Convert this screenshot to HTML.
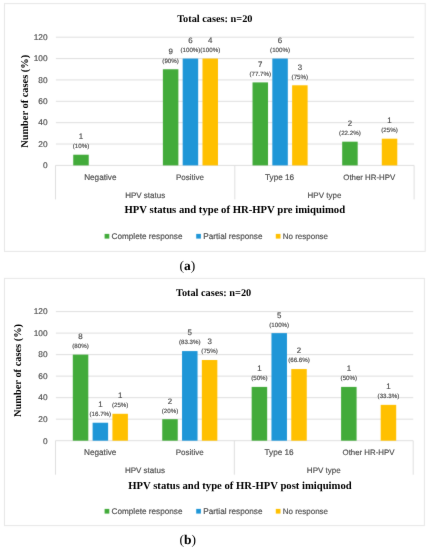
<!DOCTYPE html><html><head><meta charset="utf-8"><style>html,body{margin:0;padding:0;background:#fff;}svg{display:block;text-rendering:geometricPrecision;}</style></head><body>
<svg width="428" height="550" viewBox="0 0 428 550">
<defs><filter id="bl" color-interpolation-filters="sRGB" x="-5%" y="-5%" width="110%" height="110%"><feConvolveMatrix order="3" kernelMatrix="0.0100 0.0800 0.0100 0.0800 0.6400 0.0800 0.0100 0.0800 0.0100" divisor="1" edgeMode="duplicate" preserveAlpha="false"/></filter><filter id="bt" color-interpolation-filters="sRGB" x="-5%" y="-5%" width="110%" height="110%"><feConvolveMatrix order="3" kernelMatrix="0.0025 0.0450 0.0025 0.0450 0.8100 0.0450 0.0025 0.0450 0.0025" divisor="1" edgeMode="duplicate" preserveAlpha="false"/></filter></defs>
<rect x="0" y="0" width="428" height="550" fill="#fff"/>
<g filter="url(#bl)">
<style>.s{font-family:"Liberation Sans", sans-serif;fill:#505050;stroke:#505050;stroke-width:0.18px;}</style>
<rect x="4.5" y="3.6" width="420.7" height="247.8" fill="#fff" stroke="#e6e6e6" stroke-width="1"/>
<line x1="55.9" y1="144.03" x2="414.1" y2="144.03" stroke="#dedede" stroke-width="1"/>
<line x1="55.9" y1="122.67" x2="414.1" y2="122.67" stroke="#dedede" stroke-width="1"/>
<line x1="55.9" y1="101.3" x2="414.1" y2="101.3" stroke="#dedede" stroke-width="1"/>
<line x1="55.9" y1="79.93" x2="414.1" y2="79.93" stroke="#dedede" stroke-width="1"/>
<line x1="55.9" y1="58.57" x2="414.1" y2="58.57" stroke="#dedede" stroke-width="1"/>
<line x1="55.9" y1="37.2" x2="414.1" y2="37.2" stroke="#dedede" stroke-width="1"/>
<line x1="55.5" y1="165.4" x2="414.1" y2="165.4" stroke="#dedede" stroke-width="1"/>
<line x1="55.5" y1="165.4" x2="55.5" y2="199.4" stroke="#dedede" stroke-width="1"/>
<line x1="234.8" y1="165.4" x2="234.8" y2="199.4" stroke="#dedede" stroke-width="1"/>
<line x1="414.1" y1="165.4" x2="414.1" y2="199.4" stroke="#dedede" stroke-width="1"/>
<rect x="73.23" y="154.72" width="15.5" height="10.68" fill="#42ab3a"/>
<rect x="162.88" y="69.25" width="15.5" height="96.15" fill="#42ab3a"/>
<rect x="182.68" y="58.57" width="15.5" height="106.83" fill="#1e96d7"/>
<rect x="202.48" y="58.57" width="15.5" height="106.83" fill="#ffc000"/>
<rect x="252.52" y="82.39" width="15.5" height="83.01" fill="#42ab3a"/>
<rect x="272.32" y="58.57" width="15.5" height="106.83" fill="#1e96d7"/>
<rect x="292.12" y="85.28" width="15.5" height="80.12" fill="#ffc000"/>
<rect x="342.18" y="141.68" width="15.5" height="23.72" fill="#42ab3a"/>
<rect x="381.78" y="138.69" width="15.5" height="26.71" fill="#ffc000"/>
<rect x="104.6" y="233.9" width="4.7" height="4.7" fill="#42ab3a"/>
<rect x="196.2" y="233.9" width="4.7" height="4.7" fill="#1e96d7"/>
<rect x="275.8" y="233.9" width="4.7" height="4.7" fill="#ffc000"/>
<rect x="4.5" y="278.4" width="419.9" height="247.2" fill="#fff" stroke="#e6e6e6" stroke-width="1"/>
<line x1="55.9" y1="419.18" x2="413.2" y2="419.18" stroke="#dedede" stroke-width="1"/>
<line x1="55.9" y1="397.67" x2="413.2" y2="397.67" stroke="#dedede" stroke-width="1"/>
<line x1="55.9" y1="376.15" x2="413.2" y2="376.15" stroke="#dedede" stroke-width="1"/>
<line x1="55.9" y1="354.63" x2="413.2" y2="354.63" stroke="#dedede" stroke-width="1"/>
<line x1="55.9" y1="333.12" x2="413.2" y2="333.12" stroke="#dedede" stroke-width="1"/>
<line x1="55.9" y1="311.6" x2="413.2" y2="311.6" stroke="#dedede" stroke-width="1"/>
<line x1="55.5" y1="440.7" x2="413.2" y2="440.7" stroke="#dedede" stroke-width="1"/>
<line x1="55.5" y1="440.7" x2="55.5" y2="474.7" stroke="#dedede" stroke-width="1"/>
<line x1="234.35" y1="440.7" x2="234.35" y2="474.7" stroke="#dedede" stroke-width="1"/>
<line x1="413.2" y1="440.7" x2="413.2" y2="474.7" stroke="#dedede" stroke-width="1"/>
<rect x="72.81" y="354.63" width="15.5" height="86.07" fill="#42ab3a"/>
<rect x="92.61" y="422.73" width="15.5" height="17.97" fill="#1e96d7"/>
<rect x="112.41" y="413.8" width="15.5" height="26.9" fill="#ffc000"/>
<rect x="162.24" y="419.18" width="15.5" height="21.52" fill="#42ab3a"/>
<rect x="182.04" y="351.08" width="15.5" height="89.62" fill="#1e96d7"/>
<rect x="201.84" y="360.01" width="15.5" height="80.69" fill="#ffc000"/>
<rect x="251.66" y="386.91" width="15.5" height="53.79" fill="#42ab3a"/>
<rect x="271.46" y="333.12" width="15.5" height="107.58" fill="#1e96d7"/>
<rect x="291.26" y="369.05" width="15.5" height="71.65" fill="#ffc000"/>
<rect x="341.09" y="386.91" width="15.5" height="53.79" fill="#42ab3a"/>
<rect x="380.69" y="404.87" width="15.5" height="35.83" fill="#ffc000"/>
<rect x="104.6" y="508.9" width="4.7" height="4.7" fill="#42ab3a"/>
<rect x="196.2" y="508.9" width="4.7" height="4.7" fill="#1e96d7"/>
<rect x="275.8" y="508.9" width="4.7" height="4.7" fill="#ffc000"/>
</g>
<g filter="url(#bt)">
<text x="214.8" y="22" text-anchor="middle" font-family='"Liberation Serif", serif' font-weight="bold" font-size="10.3" fill="#000">Total cases: n=20</text>
<text x="47.6" y="168.2" text-anchor="end" class="s" font-size="8.3">0</text>
<text x="47.6" y="146.83" text-anchor="end" class="s" font-size="8.3">20</text>
<text x="47.6" y="125.47" text-anchor="end" class="s" font-size="8.3">40</text>
<text x="47.6" y="104.1" text-anchor="end" class="s" font-size="8.3">60</text>
<text x="47.6" y="82.73" text-anchor="end" class="s" font-size="8.3">80</text>
<text x="47.6" y="61.37" text-anchor="end" class="s" font-size="8.3">100</text>
<text x="47.6" y="40" text-anchor="end" class="s" font-size="8.3">120</text>
<text x="80.98" y="148.12" text-anchor="middle" class="s" font-size="6.2">(10%)</text>
<text x="80.98" y="139.12" text-anchor="middle" class="s" font-size="7.9">1</text>
<text x="170.62" y="62.65" text-anchor="middle" class="s" font-size="6.2">(90%)</text>
<text x="170.62" y="53.65" text-anchor="middle" class="s" font-size="7.9">9</text>
<text x="190.43" y="51.97" text-anchor="middle" class="s" font-size="6.2">(100%)</text>
<text x="190.43" y="42.97" text-anchor="middle" class="s" font-size="7.9">6</text>
<text x="210.23" y="51.97" text-anchor="middle" class="s" font-size="6.2">(100%)</text>
<text x="210.23" y="42.97" text-anchor="middle" class="s" font-size="7.9">4</text>
<text x="260.27" y="75.79" text-anchor="middle" class="s" font-size="6.2">(77.7%)</text>
<text x="260.27" y="66.79" text-anchor="middle" class="s" font-size="7.9">7</text>
<text x="280.07" y="51.97" text-anchor="middle" class="s" font-size="6.2">(100%)</text>
<text x="280.07" y="42.97" text-anchor="middle" class="s" font-size="7.9">6</text>
<text x="299.88" y="78.68" text-anchor="middle" class="s" font-size="6.2">(75%)</text>
<text x="299.88" y="69.68" text-anchor="middle" class="s" font-size="7.9">3</text>
<text x="349.93" y="135.08" text-anchor="middle" class="s" font-size="6.2">(22.2%)</text>
<text x="349.93" y="126.08" text-anchor="middle" class="s" font-size="7.9">2</text>
<text x="389.53" y="132.09" text-anchor="middle" class="s" font-size="6.2">(25%)</text>
<text x="389.53" y="123.09" text-anchor="middle" class="s" font-size="7.9">1</text>
<text x="100.33" y="179.8" text-anchor="middle" class="s" font-size="8.2">Negative</text>
<text x="189.98" y="179.8" text-anchor="middle" class="s" font-size="8.0">Positive</text>
<text x="279.62" y="179.8" text-anchor="middle" class="s" font-size="8.2">Type 16</text>
<text x="369.28" y="179.8" text-anchor="middle" class="s" font-size="7.85">Other HR-HPV</text>
<text x="145.15" y="197.7" text-anchor="middle" class="s" font-size="8.0">HPV status</text>
<text x="324.45" y="197.7" text-anchor="middle" class="s" font-size="8.0">HPV type</text>
<text x="124.5" y="212.7" font-family='"Liberation Serif", serif' font-weight="bold" font-size="10.7" fill="#000">HPV status and type of HR-HPV pre imiquimod</text>
<text transform="translate(28.1 101.35) rotate(-90)" x="0" y="0" text-anchor="middle" font-family='"Liberation Serif", serif' font-weight="bold" font-size="10.4" fill="#000">Number of cases (%)</text>
<text x="111.5" y="239.2" class="s" font-size="8.2">Complete response</text>
<text x="203.3" y="239.2" class="s" font-size="8.2">Partial response</text>
<text x="282.7" y="239.2" class="s" font-size="8.0">No response</text>
<text x="179.6" y="269.8" font-family='"Liberation Serif", serif' font-weight="bold" font-size="13.5" fill="#000"><tspan font-weight="normal">(</tspan>a<tspan font-weight="normal">)</tspan></text>
<text x="213.6" y="296.1" text-anchor="middle" font-family='"Liberation Serif", serif' font-weight="bold" font-size="10.3" fill="#000">Total cases: n=20</text>
<text x="47.6" y="443.5" text-anchor="end" class="s" font-size="8.3">0</text>
<text x="47.6" y="421.98" text-anchor="end" class="s" font-size="8.3">20</text>
<text x="47.6" y="400.47" text-anchor="end" class="s" font-size="8.3">40</text>
<text x="47.6" y="378.95" text-anchor="end" class="s" font-size="8.3">60</text>
<text x="47.6" y="357.43" text-anchor="end" class="s" font-size="8.3">80</text>
<text x="47.6" y="335.92" text-anchor="end" class="s" font-size="8.3">100</text>
<text x="47.6" y="314.4" text-anchor="end" class="s" font-size="8.3">120</text>
<text x="80.56" y="348.03" text-anchor="middle" class="s" font-size="6.2">(80%)</text>
<text x="80.56" y="339.03" text-anchor="middle" class="s" font-size="7.9">8</text>
<text x="100.36" y="416.13" text-anchor="middle" class="s" font-size="6.2">(16.7%)</text>
<text x="100.36" y="407.13" text-anchor="middle" class="s" font-size="7.9">1</text>
<text x="120.16" y="407.2" text-anchor="middle" class="s" font-size="6.2">(25%)</text>
<text x="120.16" y="398.2" text-anchor="middle" class="s" font-size="7.9">1</text>
<text x="169.99" y="412.58" text-anchor="middle" class="s" font-size="6.2">(20%)</text>
<text x="169.99" y="403.58" text-anchor="middle" class="s" font-size="7.9">2</text>
<text x="189.79" y="344.48" text-anchor="middle" class="s" font-size="6.2">(83.3%)</text>
<text x="189.79" y="335.48" text-anchor="middle" class="s" font-size="7.9">5</text>
<text x="209.59" y="353.41" text-anchor="middle" class="s" font-size="6.2">(75%)</text>
<text x="209.59" y="344.41" text-anchor="middle" class="s" font-size="7.9">3</text>
<text x="259.41" y="380.31" text-anchor="middle" class="s" font-size="6.2">(50%)</text>
<text x="259.41" y="371.31" text-anchor="middle" class="s" font-size="7.9">1</text>
<text x="279.21" y="326.52" text-anchor="middle" class="s" font-size="6.2">(100%)</text>
<text x="279.21" y="317.52" text-anchor="middle" class="s" font-size="7.9">5</text>
<text x="299.01" y="362.45" text-anchor="middle" class="s" font-size="6.2">(66.6%)</text>
<text x="299.01" y="353.45" text-anchor="middle" class="s" font-size="7.9">2</text>
<text x="348.84" y="380.31" text-anchor="middle" class="s" font-size="6.2">(50%)</text>
<text x="348.84" y="371.31" text-anchor="middle" class="s" font-size="7.9">1</text>
<text x="388.44" y="398.27" text-anchor="middle" class="s" font-size="6.2">(33.3%)</text>
<text x="388.44" y="389.27" text-anchor="middle" class="s" font-size="7.9">1</text>
<text x="100.21" y="454.8" text-anchor="middle" class="s" font-size="8.2">Negative</text>
<text x="189.64" y="454.8" text-anchor="middle" class="s" font-size="8.0">Positive</text>
<text x="279.06" y="454.8" text-anchor="middle" class="s" font-size="8.2">Type 16</text>
<text x="368.49" y="454.8" text-anchor="middle" class="s" font-size="7.85">Other HR-HPV</text>
<text x="144.93" y="472.7" text-anchor="middle" class="s" font-size="8.0">HPV status</text>
<text x="323.77" y="472.7" text-anchor="middle" class="s" font-size="8.0">HPV type</text>
<text x="128.3" y="488.7" font-family='"Liberation Serif", serif' font-weight="bold" font-size="10.65" fill="#000">HPV status and type of HR-HPV post imiquimod</text>
<text transform="translate(21 370.45) rotate(-90)" x="0" y="0" text-anchor="middle" font-family='"Liberation Serif", serif' font-weight="bold" font-size="10.4" fill="#000">Number of cases (%)</text>
<text x="111.5" y="514.2" class="s" font-size="8.2">Complete response</text>
<text x="203.3" y="514.2" class="s" font-size="8.2">Partial response</text>
<text x="282.7" y="514.2" class="s" font-size="8.0">No response</text>
<text x="179.6" y="544" font-family='"Liberation Serif", serif' font-weight="bold" font-size="13.5" fill="#000"><tspan font-weight="normal">(</tspan>b<tspan font-weight="normal">)</tspan></text>
</g></svg></body></html>
